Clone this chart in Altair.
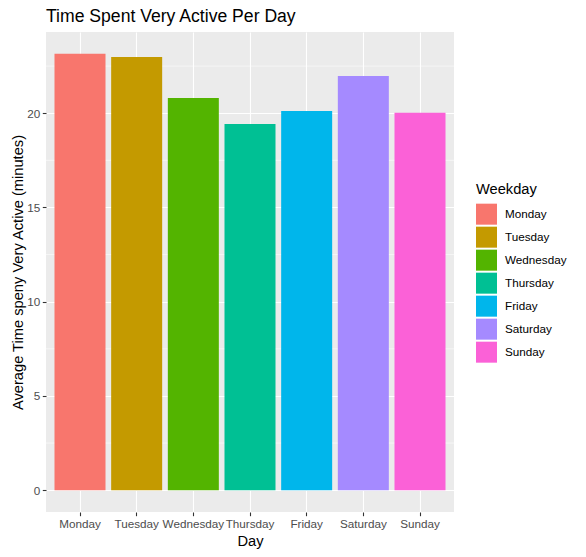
import altair as alt
import pandas as pd

days = ["Monday", "Tuesday", "Wednesday", "Thursday", "Friday", "Saturday", "Sunday"]
minutes = [23.15, 22.98, 20.81, 19.43, 20.11, 21.97, 20.03]
colors = ["#F8766D", "#C49A00", "#53B400", "#00C094", "#00B6EB", "#A58AFF", "#FB61D7"]
y_ticks = [0, 5, 10, 15, 20]
minor_ticks = [2.5, 7.5, 12.5, 17.5, 22.5]

df = pd.DataFrame({"Day": days, "Minutes": minutes})
minor_df = pd.DataFrame({"v": minor_ticks})

FONT = "Liberation Sans"
ytitle = "Average Time speny Very Active (minutes)"
yscale = alt.Scale(domain=[-1.1575, 24.3075], nice=False, zero=False)

yaxis = alt.Axis(
    values=y_ticks, grid=True, gridColor="white", gridWidth=1.1,
    tickColor="#333333", tickSize=3.7, tickWidth=1.1,
    labelColor="#4D4D4D", labelFontSize=11.7, labelFont=FONT, labelPadding=2.5,
    domain=False, title=ytitle, titleFont=FONT, titleFontSize=14.67,
    titleFontWeight="normal", titleColor="black", titlePadding=1.5,
)

minor = alt.Chart(minor_df).mark_rule(color="white", strokeWidth=0.55).encode(
    y=alt.Y("v:Q", scale=yscale, axis=yaxis)
)

bars = alt.Chart(df).mark_bar().encode(
    x=alt.X(
        "Day:N", sort=days,
        scale=alt.Scale(paddingInner=0.1, paddingOuter=0.15),
        axis=alt.Axis(
            labelAngle=0, bandPosition=0.5, grid=True, gridColor="white", gridWidth=1.1,
            tickColor="#333333", tickSize=3.7, tickWidth=1.1,
            labelColor="#4D4D4D", labelFontSize=11.7, labelFont=FONT, labelPadding=3,
            labelOverlap=False, labelBound=False,
            domain=False, title="Day", titleFont=FONT, titleFontSize=14.67,
            titleFontWeight="normal", titleColor="black", titlePadding=3.5,
        ),
    ),
    y=alt.Y("Minutes:Q", scale=yscale, axis=yaxis),
    color=alt.Color(
        "Day:N", sort=days,
        scale=alt.Scale(domain=days, range=colors),
        legend=alt.Legend(
            title="Weekday", orient="none", legendX=430, legendY=150,
            titleFont=FONT, titleFontSize=14.67, titleFontWeight="normal", titleColor="black",
            titlePadding=7, labelFont=FONT, labelFontSize=11.7, labelColor="black",
            symbolType="square", symbolSize=441, symbolStrokeWidth=0, symbolOpacity=1,
            rowPadding=2, labelOffset=8, padding=0,
        ),
    ),
)

chart = alt.layer(minor, bars).properties(
    width=408, height=480,
    title=alt.TitleParams(
        "Time Spent Very Active Per Day", anchor="start", frame="group",
        font=FONT, fontSize=17.6, fontWeight="normal", color="black",
        offset=6,
    ),
    background="white",
    autosize=alt.AutoSizeParams(type="none"),
    padding={"left": 38, "top": 24, "right": 124, "bottom": 37},
).configure_view(strokeWidth=0, fill="#EBEBEB")

chart.save("out.html", embed_options={"renderer": "svg", "actions": False})
